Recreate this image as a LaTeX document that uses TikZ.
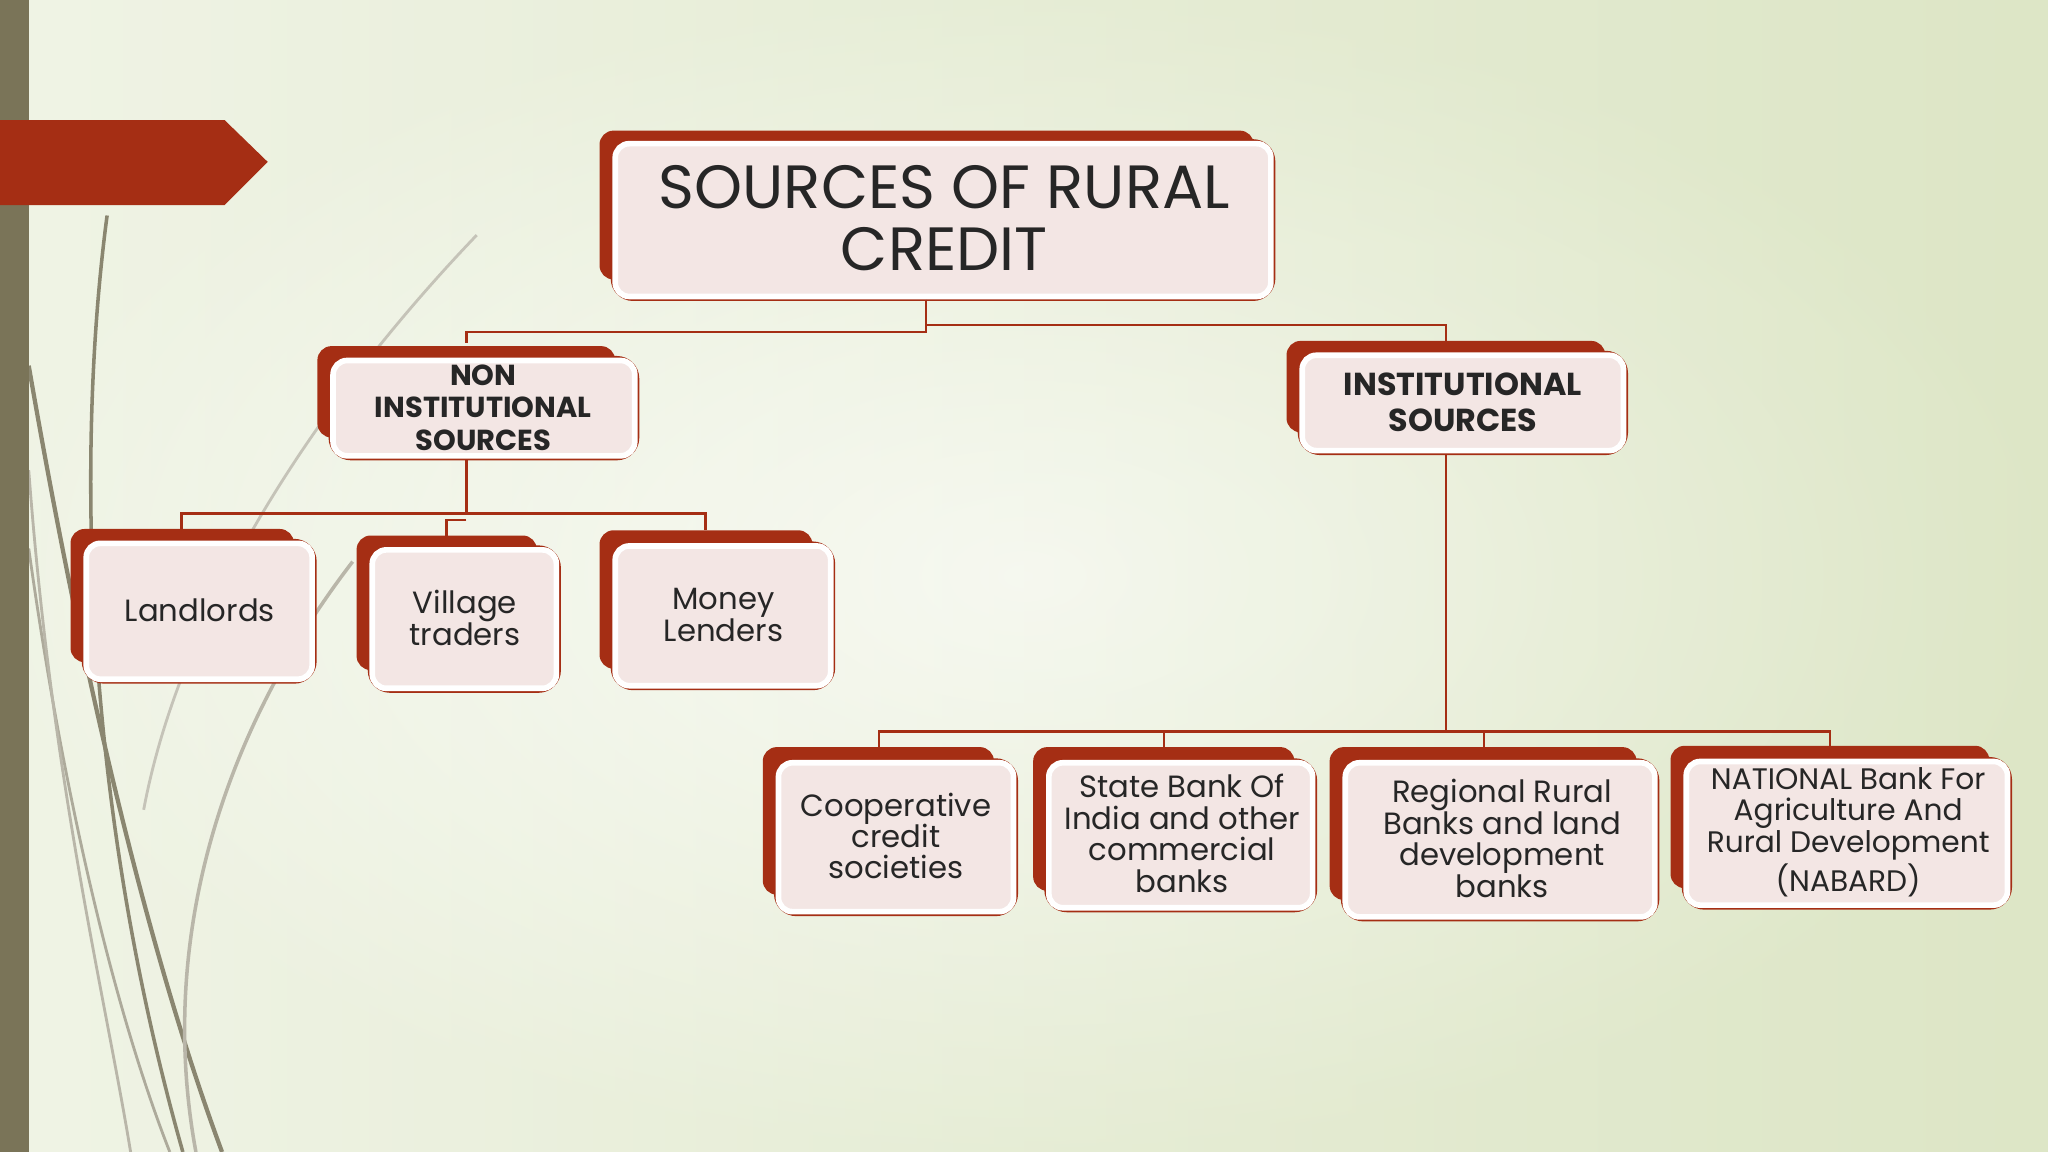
\documentclass[tikz,border=0pt]{standalone}
\usepackage{fontspec}
\setmainfont{Poppins}
\usetikzlibrary{calc}
\definecolor{rust}{HTML}{A52E14}
\definecolor{pinkf}{HTML}{F3E6E4}
\definecolor{olive}{HTML}{7A7458}
\definecolor{bgA}{HTML}{FFFFFF}
\definecolor{bgB}{HTML}{DDE6C6}
\definecolor{vine}{HTML}{8A8670}
\tikzset{
 conn/.style={draw=rust, line width=0.7pt},
 backbox/.style={fill=rust, rounded corners=4pt},
 frontbox/.style={fill=pinkf, draw=white, line width=1.6pt, rounded corners=4pt},
 frontline/.style={draw=rust, line width=0.7pt, rounded corners=6pt},
 lbl/.style={align=center, font=\fontsize{8.7}{8.9}\selectfont, text=black!85},
}
\newcommand{\mybox}[9]{%
 \fill[backbox] (#6,#7) rectangle (#8,#9);
 \draw[frontline, fill=white] (#2-2.5,#3-2.5) rectangle (#4+2.5,#5+2.5);
 \fill[frontbox] (#2,#3) rectangle (#4,#5);
 \node[lbl] (#1) at ({(#2+#4)/2},{(#3+#5)/2}) [minimum width={(#4-#2)*0.013cm}, minimum height={(#5-#3)*0.013cm}] {};
}
\begin{document}
\begin{tikzpicture}[x=0.013cm,y=-0.013cm]
\useasboundingbox (0,0) rectangle (1568,882);
\shade[left color=bgA, right color=bgB] (0,0) rectangle (1568,882);
\shade[inner color=white, outer color=bgB, opacity=0.45] (0,0) rectangle (1568,882);
\shade[inner color=white, outer color=white, opacity=0] (0,0) rectangle (1,1);
% vines
\draw[vine, line width=1.2pt] (22,280) .. controls (60,500) and (110,720) .. (170,882);
\draw[vine!70, line width=0.8pt] (22,420) .. controls (50,620) and (90,780) .. (130,882);
\draw[vine, line width=1pt] (82,165) .. controls (60,330) and (60,600) .. (140,882);
\draw[vine!60, line width=1pt] (270,430) .. controls (170,560) and (120,720) .. (150,882);
\draw[vine!50, line width=0.8pt] (365,180) .. controls (250,300) and (140,460) .. (110,620);
\draw[vine!60, line width=0.8pt] (22,360) .. controls (40,600) and (80,760) .. (100,882);
% left bar and arrow
\fill[olive] (0,0) rectangle (22,882);
\fill[rust] (0,92) -- (172,92) -- (205,124) -- (172,157) -- (0,157) -- cycle;
% boxes
\mybox{t}{471}{110}{973}{227}{459}{100}{960}{214}
\mybox{ni}{255}{276}{486}{349}{243}{265}{471}{335}
\mybox{in}{997}{272}{1243}{345}{985}{261}{1229}{331}
\mybox{ll}{66}{416}{239}{520}{54}{405}{225}{507}
\mybox{vt}{285}{421}{426}{527}{273}{410}{411}{513}
\mybox{ml}{471}{418}{636}{525}{459}{406}{622}{512}
\mybox{cc}{596}{584}{776}{698}{584}{572}{761}{685}
\mybox{sb}{803}{584}{1005}{695}{791}{572}{991}{682}
\mybox{rr}{1030}{584}{1267}{702}{1018}{572}{1253}{689}
\mybox{nb}{1291}{583}{1537}{693}{1279}{571}{1523}{680}
% texts
\node[lbl, font=\fontsize{17.3}{17.7}\selectfont] at (723,167) {SOURCES OF RURAL\\CREDIT};
\node[lbl, font=\bfseries\fontsize{8.2}{9.2}\selectfont] at (370,312) {NON\\INSTITUTIONAL\\SOURCES};
\node[lbl, font=\bfseries\fontsize{9}{10}\selectfont] at (1120,308) {INSTITUTIONAL\\SOURCES};
\node[lbl] at (153,467) {Landlords};
\node[lbl] at (356,473) {Village\\traders};
\node[lbl] at (554,471) {Money\\Lenders};
\node[lbl] at (686,640) {Cooperative\\credit\\societies};
\node[lbl] at (905,638) {State Bank Of\\India and other\\commercial\\banks};
\node[lbl] at (1150,642) {Regional Rural\\Banks and land\\development\\banks};
\node[lbl, font=\fontsize{8.4}{8.9}\selectfont] at (1415,637) {NATIONAL Bank For\\Agriculture And\\Rural Development\\(NABARD)};
% connectors
\coordinate (j1) at (709,254);
\coordinate (j2) at (709,249);
\draw[conn] (709,229.5) -- (j1) -- (357,254) -- (357,262.5);
\draw[conn] (j2) -- (1107,249) -- (1107,261);
\draw[conn] (357,351.5) -- (357,393);
\draw[conn] (139,405) -- (139,393) -- (540,393) -- (540,406);
\draw[conn] (357,398) -- (342,398) -- (342,410);
\draw[conn] (1107,347.5) -- (1107,560);
\draw[conn] (673,572) -- (673,560) -- (1401,560) -- (1401,571);
\draw[conn] (891,560) -- (891,572);
\draw[conn] (1136,560) -- (1136,572);
\end{tikzpicture}
\end{document}
